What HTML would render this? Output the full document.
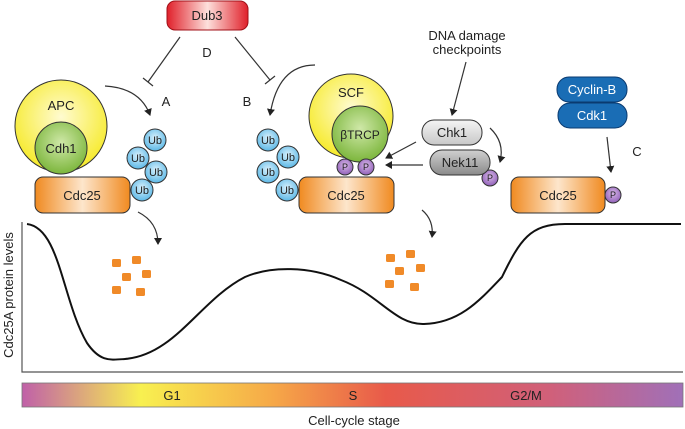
<!DOCTYPE html>
<html><head><meta charset="utf-8"><style>body{margin:0;background:#fff}svg{display:block;font-family:"Liberation Sans",sans-serif}</style></head><body>
<svg width="685" height="429" viewBox="0 0 685 429">
<defs>
<linearGradient id="red" x1="0" x2="1"><stop offset="0" stop-color="#e0202a"/><stop offset=".5" stop-color="#fde0dc"/><stop offset="1" stop-color="#e0202a"/></linearGradient>
<linearGradient id="org" x1="0" x2="1"><stop offset="0" stop-color="#f08a20"/><stop offset=".5" stop-color="#fde6cc"/><stop offset="1" stop-color="#f08a20"/></linearGradient>
<radialGradient id="yel" cx=".5" cy=".4" r=".6"><stop offset="0" stop-color="#fffbd0"/><stop offset="1" stop-color="#f6ea2a"/></radialGradient>
<radialGradient id="grn" cx=".5" cy=".4" r=".6"><stop offset="0" stop-color="#cfe8a8"/><stop offset="1" stop-color="#7cb63c"/></radialGradient>
<radialGradient id="ub" cx=".5" cy=".4" r=".6"><stop offset="0" stop-color="#d8f0fc"/><stop offset="1" stop-color="#5cb8e6"/></radialGradient>
<radialGradient id="pp" cx=".5" cy=".4" r=".6"><stop offset="0" stop-color="#d8b8e8"/><stop offset="1" stop-color="#9060b8"/></radialGradient>
<linearGradient id="lg" x1="0" x2="0" y1="0" y2="1"><stop offset="0" stop-color="#f4f4f4"/><stop offset="1" stop-color="#c8c8c8"/></linearGradient>
<linearGradient id="dg" x1="0" x2="0" y1="0" y2="1"><stop offset="0" stop-color="#d0d0d0"/><stop offset="1" stop-color="#8a8a8a"/></linearGradient>
<linearGradient id="bar" x1="0" x2="1"><stop offset="0" stop-color="#c060a8"/><stop offset=".18" stop-color="#f8f050"/><stop offset=".38" stop-color="#f6a848"/><stop offset=".55" stop-color="#e85a4a"/><stop offset=".8" stop-color="#d0607a"/><stop offset="1" stop-color="#a070b8"/></linearGradient>
<marker id="ah" markerWidth="8" markerHeight="8" refX="6" refY="4" orient="auto" markerUnits="userSpaceOnUse"><path d="M0,0 L7,4 L0,8 z" fill="#222"/></marker>
</defs>
<g font-size="13" fill="#222" text-anchor="middle">
<rect x="167" y="1" width="81" height="29" rx="8" fill="url(#red)" stroke="#a01018"/>
<text x="207" y="20">Dub3</text>
<text x="207" y="57">D</text>
<g stroke="#333" stroke-width="1.2" fill="none">
<line x1="180" y1="37" x2="148" y2="82"/><line x1="143" y1="78" x2="153" y2="86"/>
<line x1="235" y1="37" x2="270" y2="80"/><line x1="265" y1="84" x2="275" y2="76"/>
<path d="M105,86 Q140,88 150,115" marker-end="url(#ah)"/>
<path d="M315,65 Q278,65 270,115" marker-end="url(#ah)"/>
<path d="M466,62 L452,115" marker-end="url(#ah)"/>
<path d="M416,142 L386,158" marker-end="url(#ah)"/>
<path d="M423,165 L386,165" marker-end="url(#ah)"/>
<path d="M490,128 Q505,142 500,162" marker-end="url(#ah)"/>
<path d="M607,137 L611,172" marker-end="url(#ah)"/>
<path d="M138,212 Q158,222 158,244" marker-end="url(#ah)"/>
<path d="M422,210 Q434,220 432,237" marker-end="url(#ah)"/>
</g>
<text x="166" y="106">A</text><text x="247" y="106">B</text><text x="637" y="156">C</text>
<circle cx="61" cy="126" r="46" fill="url(#yel)" stroke="#333"/>
<text x="61" y="110">APC</text>
<circle cx="61" cy="148" r="26" fill="url(#grn)" stroke="#333"/>
<text x="61" y="153">Cdh1</text>
<rect x="35" y="177" width="95" height="36" rx="8" fill="url(#org)" stroke="#333"/>
<text x="82" y="200">Cdc25</text>
<g font-size="11">
<circle cx="155" cy="140" r="11" fill="url(#ub)" stroke="#333"/><text x="155" y="144">Ub</text>
<circle cx="138" cy="158" r="11" fill="url(#ub)" stroke="#333"/><text x="138" y="162">Ub</text>
<circle cx="156" cy="172" r="11" fill="url(#ub)" stroke="#333"/><text x="156" y="176">Ub</text>
<circle cx="142" cy="190" r="11" fill="url(#ub)" stroke="#333"/><text x="142" y="194">Ub</text>
<circle cx="268" cy="140" r="11" fill="url(#ub)" stroke="#333"/><text x="268" y="144">Ub</text>
<circle cx="288" cy="157" r="11" fill="url(#ub)" stroke="#333"/><text x="288" y="161">Ub</text>
<circle cx="268" cy="172" r="11" fill="url(#ub)" stroke="#333"/><text x="268" y="176">Ub</text>
<circle cx="287" cy="190" r="11" fill="url(#ub)" stroke="#333"/><text x="287" y="194">Ub</text>
</g>
<circle cx="351" cy="116" r="42" fill="url(#yel)" stroke="#333"/>
<text x="351" y="97">SCF</text>
<circle cx="360" cy="134" r="28" fill="url(#grn)" stroke="#333"/>
<text x="360" y="139" font-size="12">βTRCP</text>
<rect x="299" y="177" width="95" height="36" rx="8" fill="url(#org)" stroke="#333"/>
<text x="346" y="200">Cdc25</text>
<g font-size="9">
<circle cx="345" cy="167" r="8" fill="url(#pp)" stroke="#333"/><text x="345" y="170">P</text>
<circle cx="366" cy="167" r="8" fill="url(#pp)" stroke="#333"/><text x="366" y="170">P</text>
<circle cx="490" cy="178" r="8" fill="url(#pp)" stroke="#333"/><text x="490" y="181">P</text>
<circle cx="613" cy="195" r="8" fill="url(#pp)" stroke="#333"/><text x="613" y="198">P</text>
</g>
<text x="467" y="40">DNA damage</text><text x="467" y="54">checkpoints</text>
<rect x="422" y="120" width="60" height="25" rx="12" fill="url(#lg)" stroke="#333"/>
<text x="452" y="137">Chk1</text>
<rect x="430" y="150" width="60" height="25" rx="12" fill="url(#dg)" stroke="#333"/>
<text x="460" y="167">Nek11</text>
<rect x="557" y="77" width="70" height="25" rx="12" fill="#1a6db5" stroke="#0a3a70"/>
<text x="592" y="94" fill="#fff">Cyclin-B</text>
<rect x="558" y="103" width="69" height="25" rx="12" fill="#1a6db5" stroke="#0a3a70"/>
<text x="592" y="120" fill="#fff">Cdk1</text>
<rect x="511" y="177" width="94" height="36" rx="8" fill="url(#org)" stroke="#333"/>
<text x="558" y="200">Cdc25</text>
<g fill="#f08a28">
<rect x="112" y="259" width="9" height="8" rx="1.5"/><rect x="132" y="256" width="9" height="8" rx="1.5"/><rect x="122" y="273" width="9" height="8" rx="1.5"/><rect x="142" y="270" width="9" height="8" rx="1.5"/><rect x="112" y="286" width="9" height="8" rx="1.5"/><rect x="136" y="288" width="9" height="8" rx="1.5"/>
<rect x="386" y="254" width="9" height="8" rx="1.5"/><rect x="406" y="250" width="9" height="8" rx="1.5"/><rect x="395" y="267" width="9" height="8" rx="1.5"/><rect x="416" y="264" width="9" height="8" rx="1.5"/><rect x="385" y="280" width="9" height="8" rx="1.5"/><rect x="410" y="283" width="9" height="8" rx="1.5"/>
</g>
<path d="M22,222 V372 H683" fill="none" stroke="#555" stroke-width="1.2"/>
<path d="M27,224 C60,228 62,300 87,343 C100,362 110,360 125,359 C175,355 200,300 245,277 C270,266 310,266 341,280 C380,295 395,325 424,324 C460,323 480,300 502,277 C520,240 530,224 565,224 L681,224" fill="none" stroke="#111" stroke-width="2"/>
<text transform="translate(13,295) rotate(-90)" font-size="13">Cdc25A protein levels</text>
<rect x="22" y="383" width="661" height="24" fill="url(#bar)" stroke="#777" stroke-width=".8"/>
<text x="172" y="400">G1</text><text x="353" y="400">S</text><text x="526" y="400">G2/M</text>
<text x="354" y="425">Cell-cycle stage</text>
</g>
</svg>
</body></html>
